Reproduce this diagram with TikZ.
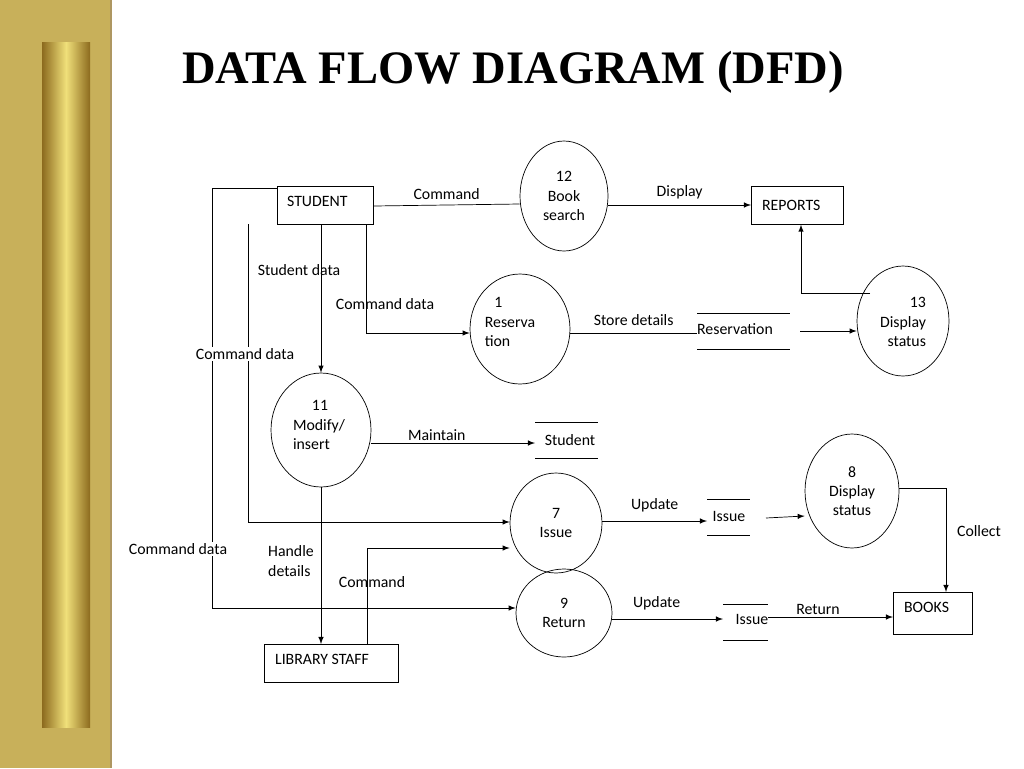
\documentclass[tikz,border=0pt]{standalone}
\usepackage{fontspec}
\setmainfont{Carlito}
\newfontfamily\titlefont{Liberation Serif}
\usetikzlibrary{positioning,shapes.geometric}
\definecolor{gold}{HTML}{C8B05A}
\definecolor{golddark}{HTML}{8C6A1E}
\definecolor{goldlight}{HTML}{F0E07A}
\begin{document}
\begin{tikzpicture}[x=0.02cm,y=-0.02cm,
  entity/.style={draw,inner sep=0,anchor=north west,font=\small},
  proc/.style={draw,ellipse,inner sep=0,align=center,font=\small},
  lbl/.style={font=\small,inner sep=1pt},
  arr/.style={->,>=latex}
  ]
  \useasboundingbox (0,0) rectangle (1024,768);
  %
  % Background
  %
  \fill[gold] (0,0) rectangle (110,768);
  \draw[golddark!70,line width=0.04cm] (111,0) -- (111,768);
  \shade[left color=golddark,right color=golddark,middle color=goldlight] (42,42) rectangle (90,727);
  \node[font=\titlefont\bfseries\fontsize{26.5}{30}\selectfont,anchor=west] (title) at (176,72) {DATA FLOW DIAGRAM (DFD)};
  %
  % Entities
  %
  \node(student)[entity,minimum width=1.92cm,minimum height=0.76cm] at (277,186) {};
  \node[lbl,anchor=west] at (285,201) {STUDENT};
  \node(reports)[entity,minimum width=1.84cm,minimum height=0.76cm] at (751,186) {};
  \node[lbl,anchor=west] at (760,205) {REPORTS};
  \node(books)  [entity,minimum width=1.58cm,minimum height=0.84cm] at (893,592) {};
  \node[lbl,anchor=west] at (902,607) {BOOKS};
  \node(staff)  [entity,minimum width=2.68cm,minimum height=0.76cm] at (264,644) {};
  \node[lbl,anchor=west] at (273,659) {LIBRARY STAFF};
  %
  % Processes
  %
  \node(search) [proc,minimum width=1.76cm,minimum height=2.2cm] at (564,196) {12\\Book\\search};
  \node(reserve)[proc,minimum width=2cm,minimum height=2.2cm] at (520,329) {};
  \node[lbl,align=left] at (510,322) {\hspace{0.6em}1\\Reserva\\tion};
  \node(status) [proc,minimum width=1.84cm,minimum height=2.2cm] at (903,321) {};
  \node[lbl,align=right] at (903,322) {13\\Display\\status};
  \node(modify) [proc,minimum width=2cm,minimum height=2.28cm] at (321,430) {};
  \node[lbl,align=left] at (319,425) {\hspace{1.2em}11\\Modify/\\insert};
  \node(display)[proc,minimum width=1.88cm,minimum height=2.28cm] at (852,491) {8\\Display\\status};
  \node(issue)  [proc,minimum width=1.84cm,minimum height=2cm] at (556,523) {7\\Issue};
  \node(return) [proc,minimum width=1.92cm,minimum height=1.76cm] at (564,613) {9\\Return};
  %
  % Data stores
  %
  \draw (697,313) -- (790,313) (697,349) -- (790,349);
  \node(resstore)[lbl] at (735,329) {Reservation};
  \draw (535,422) -- (598,422) (535,458) -- (598,458);
  \node(ststore)[lbl] at (570,440) {Student};
  \draw (707,499) -- (750,499) (707,535) -- (750,535);
  \node(issstore)[lbl] at (729,516) {Issue};
  \draw (723,604) -- (768,604) (723,640) -- (768,640);
  \node(retstore)[lbl] at (752,619) {Issue};
  %
  % Arrows
  %
  \draw (student.east |- 0,206) -- (search.west |- 0,204) node[lbl,midway,above=2pt] {Command};
  \draw[arr] (search.east |- 0,205) -- (reports.west |- 0,205) node[lbl,midway,above=2pt] {Display};
  \draw[arr] (status.north west |- 0,293) -- (801,293) -- (reports.south -| 801,0);
  \draw[arr] (321,224) -- (modify.north);
  \node[lbl] at (299,270) {Student data};
  \draw[arr] (248,224) -- (248,522) -- (issue.west |- 0,522);
  \draw[arr] (366,224) -- (366,333) -- (reserve.west |- 0,333);
  \node[lbl] at (385,304) {Command data};
  \draw[arr] (student.west |- 0,188) -- (212,188) -- (212,608) -- (return.west |- 0,608);
  \node[lbl,fill=white] at (245,354) {Command data};
  \node[lbl,fill=white] at (178,549) {Command data};
  \draw (reserve.east |- 0,333) -- (697,333) node[lbl,midway,above=3pt] {Store details};
  \draw[arr] (800,331) -- (status.west |- 0,331);
  \draw[arr] (modify.east |- 0,443) -- (535,443) node[lbl,pos=0.4,above] {Maintain};
  \draw[arr] (modify.south) -- (staff.north -| 321,0);
  \node[lbl,align=left] at (291,561) {Handle\\details};
  \draw[arr] (staff.north -| 367,0) -- (367,548) -- (issue.west |- 0,548);
  \node[lbl] at (372,582) {Command};
  \draw[arr] (issue.east |- 0,521) -- (707,521) node[lbl,midway,above=4pt] {Update};
  \draw[arr] (766,518) -- (display.west |- 0,516);
  \draw[arr] (display.east |- 0,488) -- (946,488) -- (books.north -| 946,0);
  \node[lbl] at (979,531) {Collect};
  \draw[arr] (return.east |- 0,619) -- (723,619) node[lbl,pos=0.4,above=4pt] {Update};
  \draw[arr] (768,617) -- (books.west |- 0,617) node[lbl,pos=0.4,above] {Return};
\end{tikzpicture}
\end{document}
